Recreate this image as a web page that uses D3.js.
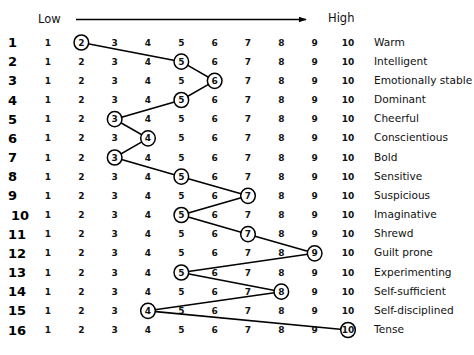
<!DOCTYPE html>
<html>
<head>
<meta charset="utf-8">
<script src="https://cdn.jsdelivr.net/npm/d3@7"></script>
<style>
  html, body { margin: 0; padding: 0; background: #fff; }
  svg { display: block; }
  text { font-family: "Comic Sans MS", "DejaVu Sans", sans-serif; }
</style>
</head>
<body>
<svg id="chart" width="474" height="355"></svg>
<script>
const traits = ["Warm","Intelligent","Emotionally stable","Dominant","Cheerful","Conscientious","Bold","Sensitive","Suspicious","Imaginative","Shrewd","Guilt prone","Experimenting","Self-sufficient","Self-disciplined","Tense"];
const scores = [2,5,6,5,3,4,3,5,7,5,7,9,5,8,4,10];
const scale = [1,2,3,4,5,6,7,8,9,10];
const lowLabel = "Low";
const highLabel = "High";

const svg = d3.select("#chart");
const x = d3.scaleLinear().domain([1, 10]).range([48, 348]);
const y = d3.scaleLinear().domain([1, 16]).range([42.5, 330]);
const rows = traits.map((t, i) => ({ idx: i + 1, trait: t, score: scores[i] }));

// header
svg.append("defs").append("marker")
  .attr("id", "arrow").attr("viewBox", "0 0 10 10")
  .attr("refX", 9).attr("refY", 5)
  .attr("markerWidth", 5).attr("markerHeight", 5)
  .attr("markerUnits", "strokeWidth")
  .attr("orient", "auto")
  .append("path").attr("d", "M0,1.5 L10,5 L0,8.5 Z").attr("fill", "#000");

svg.append("text").attr("x", 38).attr("y", 19).attr("dominant-baseline", "central")
  .attr("font-size", 11.5).attr("fill", "#111").text(lowLabel);
svg.append("line").attr("x1", 76).attr("x2", 306).attr("y1", 19.5).attr("y2", 19.5)
  .attr("stroke", "#000").attr("stroke-width", 1.6).attr("marker-end", "url(#arrow)");
svg.append("text").attr("x", 328).attr("y", 18).attr("dominant-baseline", "central")
  .attr("font-size", 11.5).attr("fill", "#111").text(highLabel);

// row numbers
svg.selectAll("text.rown").data(rows).join("text")
  .attr("class", "rown")
  .attr("x", d => d.idx === 10 ? 11 : 8)
  .attr("y", d => y(d.idx))
  .attr("dominant-baseline", "central")
  .attr("font-size", 13).attr("font-weight", "bold").attr("fill", "#000")
  .text(d => d.idx);

// grid numbers
const cells = [];
rows.forEach(r => scale.forEach(v => cells.push({ row: r.idx, v })));
svg.selectAll("text.cell").data(cells).join("text")
  .attr("class", "cell")
  .attr("x", d => x(d.v)).attr("y", d => y(d.row))
  .attr("text-anchor", "middle").attr("dominant-baseline", "central")
  .attr("font-size", 9).attr("font-weight", "bold").attr("fill", "#111")
  .text(d => d.v);

// trait labels
svg.selectAll("text.trait").data(rows).join("text")
  .attr("class", "trait")
  .attr("x", 374).attr("y", d => y(d.idx) - 1)
  .attr("dominant-baseline", "central")
  .attr("font-size", 10.6).attr("fill", "#111")
  .text(d => d.trait);

// profile line
const line = d3.line().x(d => x(d.score)).y(d => y(d.idx));
svg.append("path").datum(rows).attr("d", line)
  .attr("fill", "none").attr("stroke", "#000").attr("stroke-width", 1.6);

// circles
svg.selectAll("ellipse.mark").data(rows).join("ellipse")
  .attr("class", "mark")
  .attr("cx", d => x(d.score)).attr("cy", d => y(d.idx))
  .attr("rx", 7.3).attr("ry", 7.6)
  .attr("fill", "#fff").attr("stroke", "#000").attr("stroke-width", 1.5);

svg.selectAll("text.marktxt").data(rows).join("text")
  .attr("class", "marktxt")
  .attr("x", d => x(d.score)).attr("y", d => y(d.idx))
  .attr("text-anchor", "middle").attr("dominant-baseline", "central")
  .attr("font-size", 9).attr("font-weight", "bold").attr("fill", "#111")
  .text(d => d.score);
</script>
</body>
</html>
